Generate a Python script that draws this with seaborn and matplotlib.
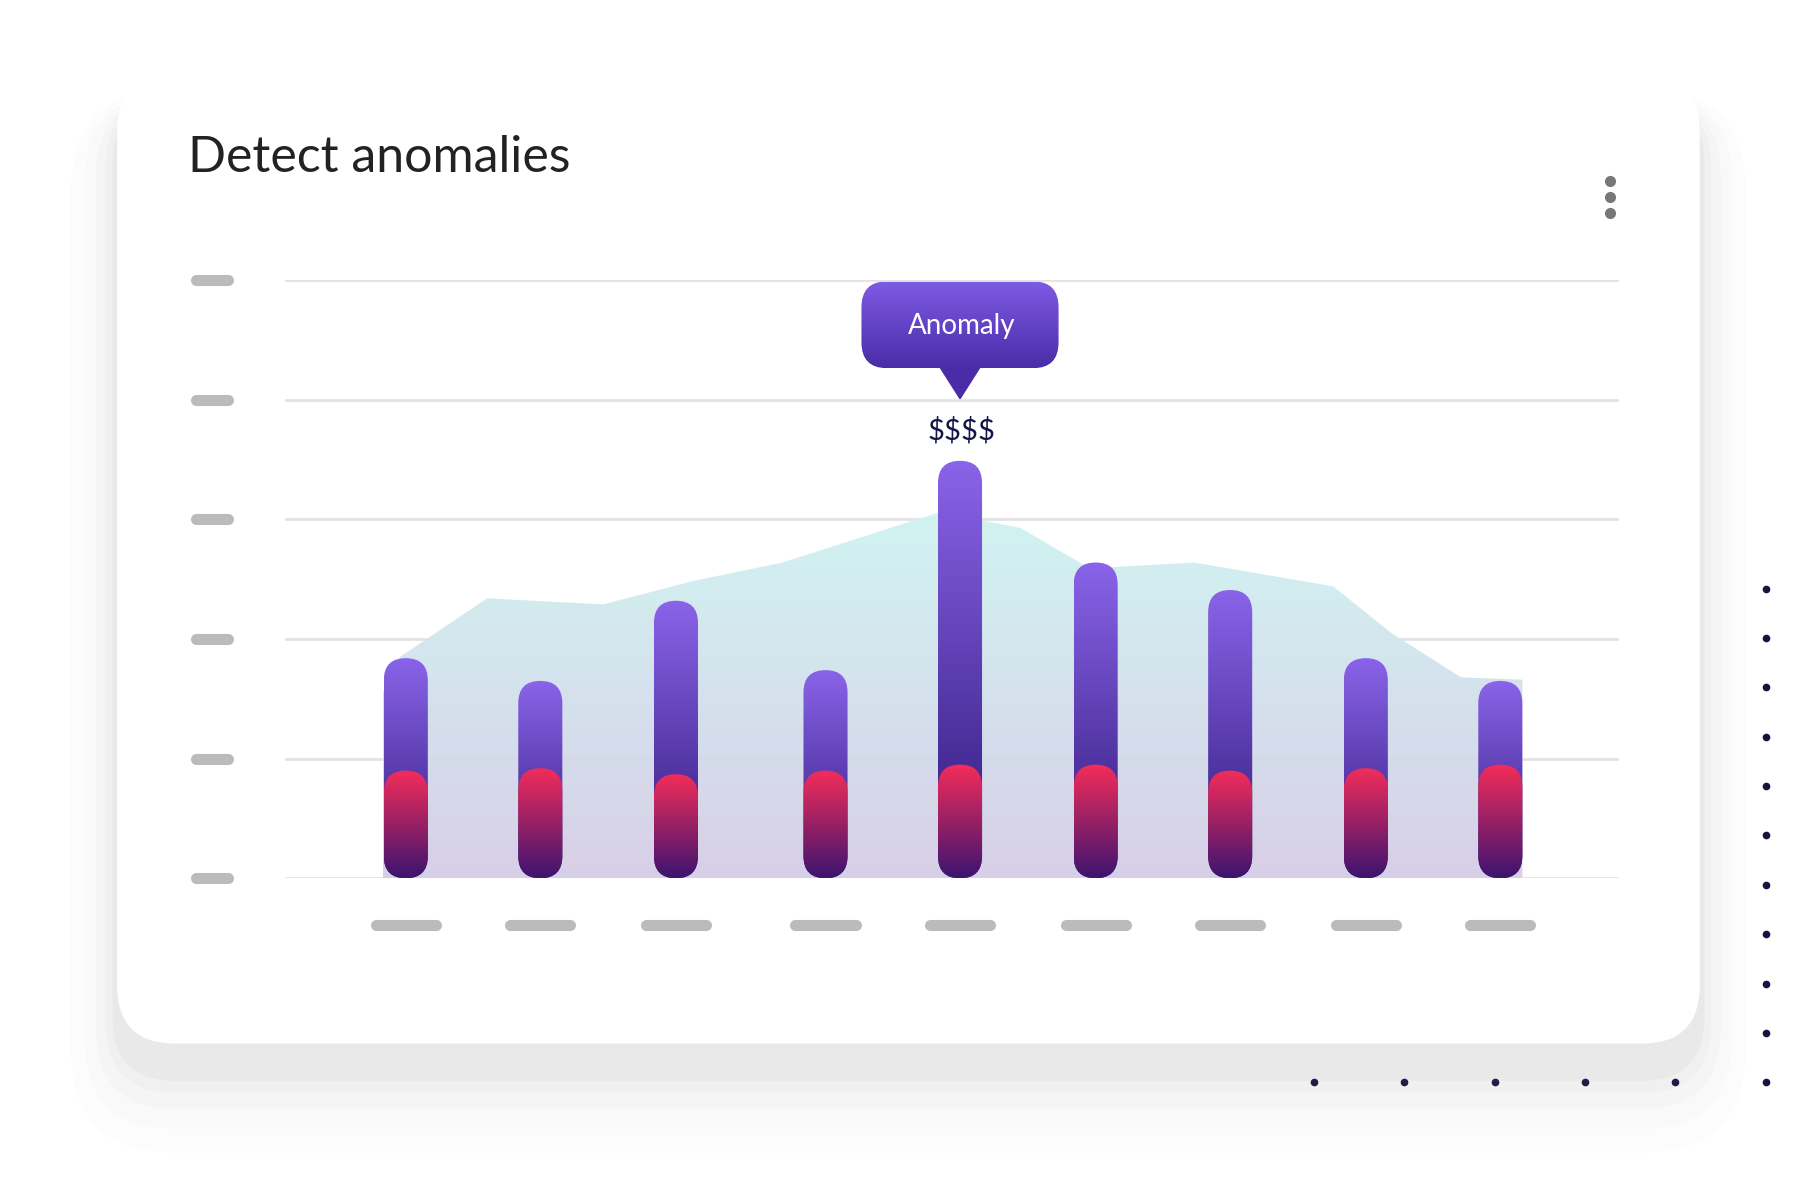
import numpy as np
import matplotlib
matplotlib.use("Agg")
import matplotlib.pyplot as plt
import seaborn as sns
from matplotlib.patches import FancyBboxPatch, Polygon
from matplotlib.colors import LinearSegmentedColormap

sns.set_style("white")

# ---- data ----
categories = ["A", "B", "C", "D", "E", "F", "G", "H", "I"]
bar_totals = [1.84, 1.65, 2.32, 1.74, 3.49, 2.64, 2.41, 1.84, 1.65]
bar_anomaly = [0.90, 0.92, 0.87, 0.90, 0.95, 0.95, 0.90, 0.92, 0.95]
area_x = [330, 345, 420, 520, 600, 675, 810, 880, 940, 1030, 1150, 1200, 1260, 1313]
area_y = [1.55, 1.85, 2.34, 2.29, 2.49, 2.64, 3.06, 2.93, 2.59, 2.64, 2.44, 2.05, 1.68, 1.66]
y_ticks = [0, 1, 2, 3, 4, 5]
title = "Detect anomalies"
tooltip_text = "Anomaly"
value_label = "$$$$"

bar_pos = [350, 466, 583, 712, 828, 945, 1061, 1178, 1294]
W, H = 1568, 1020

fig = plt.figure(figsize=(18.18, 11.96), dpi=100)
bg = fig.add_axes([0, 0, 1, 1])
bg.set_xlim(0, W); bg.set_ylim(H, 0); bg.axis("off")

# card shadow
for pad, a in [(40, 0.015), (28, 0.02), (18, 0.03), (10, 0.04), (4, 0.05)]:
    bg.add_patch(FancyBboxPatch((101 - pad, 62 - pad * 0.3 + 25), 1365 + 2 * pad, 828 + 2 * pad,
                                boxstyle="round,pad=0,rounding_size=%d" % (50 + pad),
                                fc="#7a7a7a", ec="none", alpha=a, zorder=1))
bg.add_patch(FancyBboxPatch((101, 62), 1365, 828, boxstyle="round,pad=0,rounding_size=50",
                            fc="white", ec="none", zorder=2))
bg.text(162, 135, title, fontsize=36, family="Lato", color="#222222", va="center", ha="left", zorder=3)
for yy in (154, 168, 182):
    bg.plot(1389, yy, "o", ms=7, color="#777777", zorder=3)

# outside dot grid
for yy in np.arange(502, 924, 42.1):
    bg.plot(1523, yy, "o", ms=4.5, color="#141440", zorder=0)
for xx in np.arange(1133, 1523, 78):
    bg.plot(xx, 923, "o", ms=4.5, color="#141440", zorder=0)

# y tick dashes
for t in y_ticks:
    py = 749 - 102 * t
    bg.plot([169, 197], [py, py], color="#BBBBBB", lw=8, solid_capstyle="round", zorder=3)
for x in bar_pos:
    bg.plot([x - 26, x + 26], [789, 789], color="#BBBBBB", lw=8,
            solid_capstyle="round", zorder=3)

# inner chart axes
ax = fig.add_axes([246 / W, 1 - 749 / H, 1150 / W, 510 / H])
ax.patch.set_alpha(0)
ax.set_xlim(246, 1396); ax.set_ylim(0, 5); ax.axis("off")
for t in y_ticks:
    ax.axhline(t, color="#E3E3E3", lw=2, zorder=1)

asp = 5 / 510
verts = list(zip(area_x, area_y)) + [(area_x[-1], 0), (area_x[0], 0)]
poly = Polygon(verts, closed=True, fc="none", ec="none")
ax.add_patch(poly)
cm_area = LinearSegmentedColormap.from_list("a", ["#D6CDE6", "#CFF4F2"])
grad = np.linspace(0, 1, 256).reshape(-1, 1)
im = ax.imshow(grad, cmap=cm_area, origin="lower", extent=(area_x[0], area_x[-1], 0, 3.1),
               aspect="auto", zorder=2, alpha=0.95)
im.set_clip_path(poly)

cm_bar = LinearSegmentedColormap.from_list("b", ["#2E1878", "#8A64E9"])
cm_red = LinearSegmentedColormap.from_list("r", ["#3C1470", "#F42D5A"])
bw = 38
for x, tot, red in zip(bar_pos, bar_totals, bar_anomaly):
    for top, cmap in ((tot, cm_bar), (red, cm_red)):
        p = FancyBboxPatch((x - bw / 2, 0), bw, top, boxstyle="round,pad=0,rounding_size=19",
                           mutation_aspect=asp, fc="none", ec="none")
        ax.add_patch(p)
        g = ax.imshow(grad, cmap=cmap, origin="lower", extent=(x - bw / 2, x + bw / 2, 0, top),
                      aspect="auto", zorder=3)
        g.set_clip_path(p)

ax.set_xlim(246, 1396); ax.set_ylim(0, 5)

# tooltip
tip = FancyBboxPatch((743, 240), 170, 74, boxstyle="round,pad=0,rounding_size=22",
                     fc="none", ec="none", zorder=4)
bg.add_patch(tip)
tg = bg.imshow(grad, cmap=LinearSegmentedColormap.from_list("t", ["#4A2CA8", "#7E5BE4"]),
               origin="lower", extent=(743, 913, 314, 240), aspect="auto", zorder=4)
tg.set_clip_path(tip)
bg.add_patch(Polygon([(810, 312), (846, 312), (828, 340)], closed=True, fc="#4A2CA8",
                     ec="#4A2CA8", lw=1, joinstyle="round", zorder=4))
bg.text(829, 278, tooltip_text, fontsize=20, family="Lato", color="white",
        ha="center", va="center", zorder=5)
bg.text(829, 367, value_label, fontsize=21, family="Lato", color="#15154A",
        ha="center", va="center", zorder=5, parse_math=False)
bg.set_xlim(0, W); bg.set_ylim(H, 0)

fig.savefig("out.png", dpi=100, facecolor="white")
